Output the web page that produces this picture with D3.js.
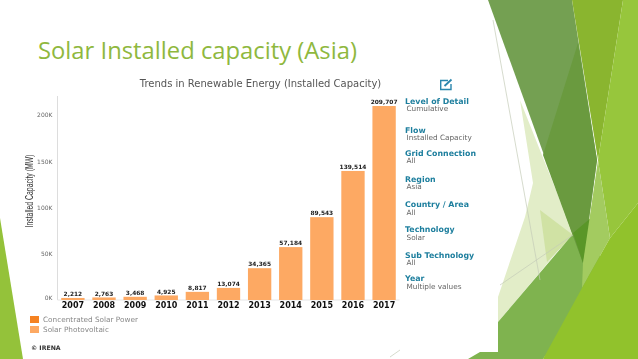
<!DOCTYPE html>
<html>
<head>
<meta charset="utf-8">
<script src="https://cdn.jsdelivr.net/npm/d3@7"></script>
<style>
  html, body { margin: 0; padding: 0; background: #fff; }
  svg { display: block; }
  text { font-family: "DejaVu Sans", sans-serif; }
</style>
</head>
<body>
<svg id="slide"></svg>
<script>
const years = ["2007", "2008", "2009", "2010", "2011", "2012", "2013", "2014", "2015", "2016", "2017"];
const capacity = [2212, 2763, 3468, 4925, 8817, 13074, 34365, 57184, 89543, 139514, 209707];
const yTicks = [0, 50000, 100000, 150000, 200000];
const legendLabels = ["Concentrated Solar Power", "Solar Photovoltaic"];
const legendColors = ["#f58220", "#fda963"];
const filterNames = ["Level of Detail", "Flow", "Grid Connection", "Region", "Country / Area", "Technology", "Sub Technology", "Year"];
const filterValues = ["Cumulative", "Installed Capacity", "All", "Asia", "All", "Solar", "All", "Multiple values"];
const filterY = [103.5, 132.5, 155.5, 181.5, 207, 232, 257.5, 281];

// slide theme shapes, back to front
const facets = [
  {fill: "#e2edc8", pts: [[520,100],[573,233],[498,322],[498,297],[525,217],[533,183]]},
  {fill: "#d0e2a4", pts: [[540,210],[573,235],[547,262]]},
  {fill: "#7fb34f", pts: [[498,322],[573,234],[600,215],[600,280],[543,359],[468,359],[480,352],[498,352]]},
  {fill: "#74a052", pts: [[488,0],[572,0],[597,160],[583,263]]},
  {fill: "#6a9a3f", pts: [[578,43],[597,160],[583,263],[543,155]]},
  {fill: "#5a9628", pts: [[573,233],[592,217],[583,263]]},
  {fill: "#8ab52f", pts: [[572,0],[623,0],[598,160]]},
  {fill: "#97c63c", pts: [[623,0],[638,0],[638,203],[610,238],[598,160]]},
  {fill: "#a3cb60", pts: [[598,160],[610,238],[582,288],[583,263]]},
  {fill: "#91c22c", pts: [[638,203],[638,359],[543,359],[582,288],[610,238]]},
  {fill: "#94c23a", pts: [[0,218],[23,359],[0,359]]}
];
const facetLines = [
  [[493,20],[540,280]],
  [[500,285],[573,235]],
  [[390,357],[400,350]]
];

const width = 638, height = 359;
const margin = {left: 57.5, right: 238.5, top: 96, bottom: 59};

const svg = d3.select("#slide").attr("width", width).attr("height", height);

svg.append("defs").append("filter").attr("id", "soft")
  .append("feGaussianBlur").attr("stdDeviation", 0.35);

svg.selectAll("polygon.facet").data(facets).join("polygon")
  .classed("facet", true)
  .attr("points", d => d.pts.join(" "))
  .attr("fill", d => d.fill);

svg.selectAll("line.facet-line").data(facetLines).join("line")
  .classed("facet-line", true)
  .attr("x1", d => d[0][0]).attr("y1", d => d[0][1])
  .attr("x2", d => d[1][0]).attr("y2", d => d[1][1])
  .attr("stroke", "#c4cbb8").attr("stroke-width", 0.7);

svg.append("text")
  .attr("x", 38).attr("y", 59)
  .style("font-family", "'Open Sans', sans-serif")
  .style("font-size", "23.8px")
  .attr("fill", "#8fb83e")
  .text("Solar Installed capacity (Asia)");

const chart = svg.append("g").attr("filter", "url(#soft)");

const xscale = d3.scaleBand()
  .domain(years)
  .range([margin.left, width - margin.right])
  .paddingInner(0.25)
  .paddingOuter(0.12);

const yscale = d3.scaleLinear()
  .domain([0, 200000])
  .range([height - margin.bottom, 115]);

chart.append("text")
  .attr("x", 260.5).attr("y", 87)
  .style("text-anchor", "middle")
  .style("font-size", "10px")
  .attr("fill", "#555")
  .text("Trends in Renewable Energy (Installed Capacity)");

// axis rules
chart.append("line")
  .attr("x1", margin.left).attr("x2", margin.left)
  .attr("y1", margin.top).attr("y2", yscale(0))
  .attr("stroke", "#ddd");
chart.append("line")
  .attr("x1", margin.left).attr("x2", width - margin.right)
  .attr("y1", yscale(0)).attr("y2", yscale(0))
  .attr("stroke", "#e6e6e6");

const yaxis = chart.append("g")
  .attr("transform", `translate(${margin.left}, 0)`)
  .call(d3.axisLeft(yscale).tickValues(yTicks).tickSize(0).tickPadding(5)
    .tickFormat(d => d / 1000 + "K"));
yaxis.select(".domain").remove();
yaxis.selectAll("text")
  .style("font-family", "'DejaVu Sans', sans-serif")
  .style("font-size", "6px")
  .attr("fill", "#666");
// the 0K label sits a little above the baseline in the original
yaxis.selectAll(".tick text").filter(d => d === 0).attr("y", -2.5);

const xaxis = chart.append("g")
  .attr("transform", `translate(0, ${yscale(0)})`)
  .call(d3.axisBottom(xscale).tickSize(0).tickPadding(2.5));
xaxis.select(".domain").remove();
xaxis.selectAll("text")
  .style("font-family", "'DejaVu Sans', sans-serif")
  .style("font-size", "8px")
  .style("font-weight", "bold")
  .attr("fill", "#111");

chart.append("text")
  .attr("transform", "translate(32.5, 191) rotate(-90)")
  .style("text-anchor", "middle")
  .style("font-family", "'Liberation Sans', sans-serif")
  .style("font-size", "10.5px")
  .attr("fill", "#333")
  .attr("textLength", 73)
  .attr("lengthAdjust", "spacingAndGlyphs")
  .text("Installed Capacity (MW)");

chart.selectAll("rect.bar").data(capacity).join("rect")
  .classed("bar", true)
  .attr("x", (d, i) => xscale(years[i]))
  .attr("width", xscale.bandwidth())
  .attr("y", d => yscale(d))
  .attr("height", d => yscale(0) - yscale(d))
  .attr("fill", legendColors[1]);

chart.selectAll("text.value").data(capacity).join("text")
  .classed("value", true)
  .attr("x", (d, i) => xscale(years[i]) + xscale.bandwidth() / 2)
  .attr("y", d => yscale(d) - 1.8)
  .style("text-anchor", "middle")
  .style("font-size", "5.9px")
  .style("font-weight", "bold")
  .attr("fill", "#222")
  .text(d => d3.format(",")(d));

const legend = chart.selectAll("g.legend").data(legendLabels).join("g")
  .classed("legend", true)
  .attr("transform", (d, i) => `translate(30, ${316 + i * 10})`);
legend.append("rect")
  .attr("width", 9).attr("height", 7)
  .attr("fill", (d, i) => legendColors[i]);
legend.append("text")
  .attr("x", 13).attr("y", 6.2)
  .style("font-size", "7.3px")
  .attr("fill", "#888")
  .text(d => d);

chart.append("text")
  .attr("x", 31).attr("y", 350)
  .style("font-size", "6.2px")
  .style("font-weight", "bold")
  .attr("fill", "#333")
  .text("© IRENA");

const filters = chart.selectAll("g.filter").data(filterNames).join("g")
  .classed("filter", true)
  .attr("transform", (d, i) => `translate(405, ${filterY[i]})`);
filters.append("text")
  .style("font-size", "7.85px")
  .style("font-weight", "bold")
  .attr("fill", "#1f7f9e")
  .text(d => d);
filters.append("text")
  .attr("x", 1.5).attr("y", 7.6)
  .style("font-size", "7.3px")
  .attr("fill", "#666")
  .text((d, i) => filterValues[i]);

// edit icon
const icon = chart.append("g")
  .attr("transform", "translate(440, 79)")
  .attr("fill", "none")
  .attr("stroke", "#2b86ad")
  .attr("stroke-width", 1.4);
icon.append("path").attr("d", "M8 1.5H0.7V10.5H11V5");
icon.append("path").attr("d", "M4.5 7L11.5 0.5").attr("stroke-width", 1.8);
</script>
</body>
</html>
